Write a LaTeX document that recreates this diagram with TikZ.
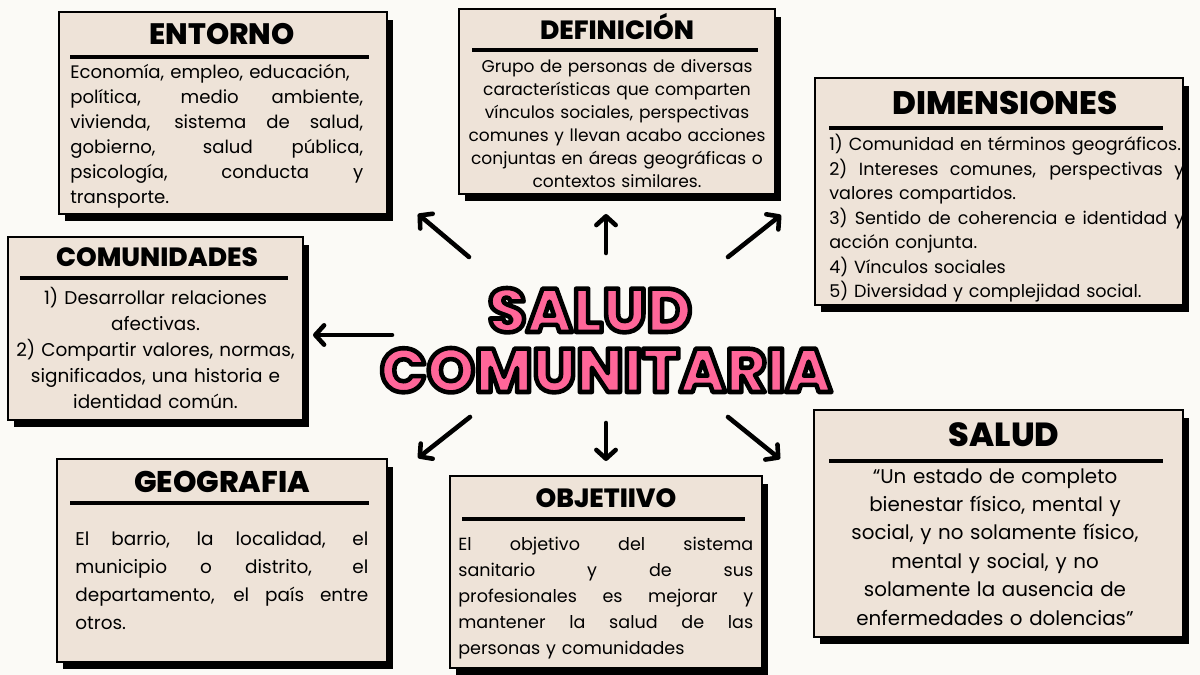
\documentclass[tikz,border=0pt]{standalone}
\usepackage{fontspec}
\setmainfont{Poppins}
\newfontface\heavyface{Poppins ExtraBold}
\usetikzlibrary{arrows.meta}
\usetikzlibrary{shadows}
\definecolor{paper}{HTML}{FBFAF6}
\definecolor{cardfill}{HTML}{EEE3D8}
\definecolor{rosa}{HTML}{FF6699}
\newcommand{\jl}[2]{\leavevmode\hbox to #1{\spaceskip=0.25em plus 1fil\relax #2}}
\newcommand{\hsz}[1]{\heavyface\fontsize{#1}{#1}\selectfont}
\newcommand{\bsz}[2]{\fontsize{#1}{#2}\selectfont}
\newcommand{\outlined}[1]{{\color{rosa}\special{pdf:literal direct 2 Tr 2.6 w 1 j 0 0 0 RG}#1\special{pdf:literal direct 0 Tr 0.4 w 0 j}}}
\tikzstyle{card} = [rectangle, draw=black, line width=1.3pt, fill=cardfill, general shadow={fill=black, shadow xshift=0.12cm, shadow yshift=-0.15cm}]
\tikzstyle{head} = [anchor=base, inner sep=0pt]
\tikzstyle{txt} = [anchor=base, inner sep=0pt]
\tikzstyle{bar} = [line width=1.8pt]
\tikzstyle{arr} = [line width=2.6pt, line cap=round, -{Straight Barb[length=5pt, width=11pt, round]}]
\tikzstyle{bigtitle} = [anchor=base, inner sep=0pt, font=\hsz{35}]

\begin{document}
\begin{tikzpicture}[x=0.02cm, y=-0.02cm]
\fill[paper] (0,0) rectangle (1200,675);
\useasboundingbox (0,0) rectangle (1200,675);

% Define nodes
\node[card, minimum width=6.56cm, minimum height=4.04cm] (ent) at (223,113)   {};
\node[card, minimum width=6.32cm, minimum height=3.70cm] (defi) at (617,101.5) {};
\node[card, minimum width=7.36cm, minimum height=4.54cm] (dim) at (999,191.5)  {};
\node[card, minimum width=5.90cm, minimum height=3.66cm] (com) at (155.5,328.5) {};
\node[card, minimum width=6.60cm, minimum height=4.06cm] (geo) at (222,560.5)  {};
\node[card, minimum width=6.24cm, minimum height=3.84cm] (obj) at (606,572)    {};
\node[card, minimum width=7.38cm, minimum height=4.54cm] (sal) at (998.5,523.5) {};

\node[head, font=\hsz{16.8}] (ent-h)  at (222,45)   {ENTORNO};
\node[head, font=\hsz{15}]   (defi-h) at (617,40)   {DEFINICIÓN};
\node[head, font=\hsz{18.5}] (dim-h)  at (1005,115) {DIMENSIONES};
\node[head, font=\hsz{15}]   (com-h)  at (157,267)  {COMUNIDADES};
\node[head, font=\hsz{17}]   (geo-h)  at (222,492)  {GEOGRAFIA};
\node[head, font=\hsz{15}]   (obj-h)  at (606,507)  {OBJETIIVO};
\node[head, font=\hsz{19}]   (sal-h)  at (1004,446) {SALUD};

\draw[bar] (70,57)   -- (369,57);
\draw[bar] (472,50)  -- (758,50);
\draw[bar] (829,128) -- (1163,128);
\draw[bar] (20,278)  -- (288,278);
\draw[bar] (70,503)  -- (369,503);
\draw[bar] (462,519) -- (745,519);
\draw[bar] (829,461) -- (1163,461);

\node[txt, anchor=base west, text width=5.86cm, align=left, font=\bsz{10.3}{14.2}] (ent-t) at (70,79)
  {Economía, empleo, educación,\\ \jl{5.86cm}{política, medio ambiente,}\\ \jl{5.86cm}{vivienda, sistema de salud,}\\
   \jl{5.86cm}{gobierno, salud pública,}\\ \jl{5.86cm}{psicología, conducta y}\\ transporte.};
\node[txt, text width=6.0cm, align=center, font=\bsz{9.7}{13}] (defi-t) at (617,73)
  {Grupo de personas de diversas\\ características que comparten\\ vínculos sociales, perspectivas\\
   comunes y llevan acabo acciones\\ conjuntas en áreas geográficas o\\ contextos similares.};
\node[txt, anchor=base west, text width=7.1cm, align=left, font=\bsz{10}{13.9}] (dim-t) at (829,151)
  {1) Comunidad en términos geográficos.\\ \jl{7.1cm}{2) Intereses comunes, perspectivas y}\\ valores compartidos.\\
   \jl{7.1cm}{3) Sentido de coherencia e identidad y}\\ acción conjunta.\\ 4) Vínculos sociales\\ 5) Diversidad y complejidad social.};
\node[txt, text width=5.8cm, align=center, font=\bsz{10.5}{14.7}] (com-t) at (155.5,305)
  {1) Desarrollar relaciones\\ afectivas.\\ 2) Compartir valores, normas,\\ significados, una historia e\\ identidad común.};
\node[txt, anchor=base west, text width=5.86cm, align=left, font=\bsz{10.5}{16}] (geo-t) at (75,545)
  {\jl{5.86cm}{El barrio, la localidad, el}\\ \jl{5.86cm}{municipio o distrito, el}\\ \jl{5.86cm}{departamento, el país entre}\\ otros.};
\node[txt, anchor=base west, text width=5.9cm, align=left, font=\bsz{10}{14.9}] (obj-t) at (458,550)
  {\jl{5.9cm}{El objetivo del sistema}\\ \jl{5.9cm}{sanitario y de sus}\\ \jl{5.9cm}{profesionales es mejorar y}\\
   \jl{5.9cm}{mantener la salud de las}\\ personas y comunidades};
\node[txt, text width=6.8cm, align=center, font=\bsz{11.3}{16.2}] (sal-t) at (995,483)
  {“Un estado de completo\\ bienestar físico, mental y\\ social, y no solamente físico,\\
   mental y social, y no\\ solamente la ausencia de\\ enfermedades o dolencias”};

% Title
\node[bigtitle] (tit1) at (590,332) {\outlined{SALUD}};
\node[bigtitle] (tit2) at (606,392) {\outlined{COMUNITARIA}};

% Edges
\coordinate (p-ent1) at (469,257);  \coordinate (p-ent2) at (418,214);
\coordinate (p-defi1) at (606,253); \coordinate (p-defi2) at (606,214);
\coordinate (p-dim1) at (728,257);  \coordinate (p-dim2) at (781,215);
\coordinate (p-com1) at (392,335);  \coordinate (p-com2) at (313,335);
\coordinate (p-geo1) at (470,417);  \coordinate (p-geo2) at (418,458);
\coordinate (p-obj1) at (606,423);  \coordinate (p-obj2) at (606,461);
\coordinate (p-sal1) at (728,417);  \coordinate (p-sal2) at (780,459);
\draw[arr] (p-ent1)  -- (p-ent2);
\draw[arr] (p-defi1) -- (p-defi2);
\draw[arr] (p-dim1)  -- (p-dim2);
\draw[arr] (p-com1)  -- (p-com2);
\draw[arr] (p-geo1)  -- (p-geo2);
\draw[arr] (p-obj1)  -- (p-obj2);
\draw[arr] (p-sal1)  -- (p-sal2);
\end{tikzpicture}
\end{document}
